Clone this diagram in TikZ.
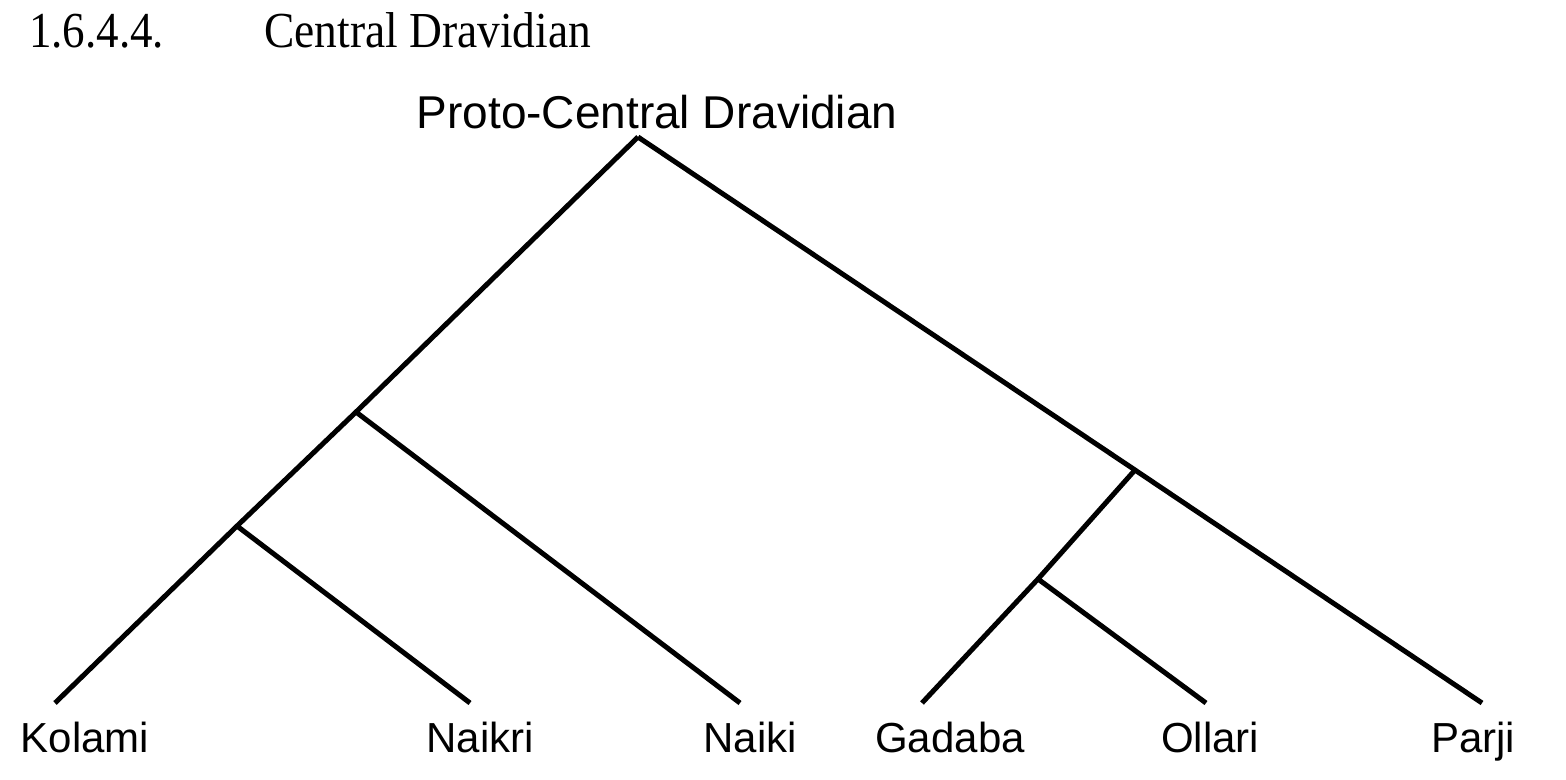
\documentclass[tikz,border=0pt]{standalone}
\usepackage{fontspec}
\setmainfont{Liberation Serif}
\setsansfont{Liberation Sans}
\begin{document}
\begin{tikzpicture}[x=1pt,y=-1pt,
  branch/.style={line width=5pt, line cap=butt, line join=miter},
  leaf/.style={font=\sffamily\fontsize{42}{42}\selectfont, anchor=base, inner sep=0pt},
  rootlbl/.style={font=\sffamily\fontsize{46}{46}\selectfont, anchor=base, inner sep=0pt},
  heading/.style={font=\rmfamily\fontsize{45}{45}\selectfont, anchor=base west, inner sep=0pt}]
\useasboundingbox (0,0) rectangle (1566,779);
% heading
\node[heading] (num) at (29,47) {\scalebox{1}[1.12]{1.6.4.4.}};
\node[heading] (ttl) at (264,47) {\scalebox{1.01}[1.12]{Central Dravidian}};
% root
\node[rootlbl] (root) at (657,128) {Proto-Central Dravidian};
\coordinate (r) at (638,137);
% junctions
\coordinate (j1) at (356,412);
\coordinate (j2) at (237,526);
\coordinate (j3) at (1135,470);
\coordinate (j4) at (1038,579);
% leaf ends
\coordinate (eKol) at (55,703);
\coordinate (eNkr) at (470,703);
\coordinate (eNki) at (740,703);
\coordinate (eGad) at (922,703);
\coordinate (eOll) at (1206,703);
\coordinate (ePar) at (1482,703);
% leaves
\node[leaf] (Kol) at (85,752) {Kolami};
\node[leaf] (Nkr) at (480,752) {Naikri};
\node[leaf] (Nki) at (750,752) {Naiki};
\node[leaf] (Gad) at (950,752) {Gadaba};
\node[leaf] (Oll) at (1210,752) {Ollari};
\node[leaf] (Par) at (1473,752) {Parji};
% branches
\draw[branch] (r) -- (j1) -- (j2) -- (eKol);
\draw[branch] (j2) -- (eNkr);
\draw[branch] (j1) -- (eNki);
\draw[branch] (r) -- (j3) -- (ePar);
\draw[branch] (j3) -- (j4) -- (eGad);
\draw[branch] (j4) -- (eOll);
\end{tikzpicture}
\end{document}
